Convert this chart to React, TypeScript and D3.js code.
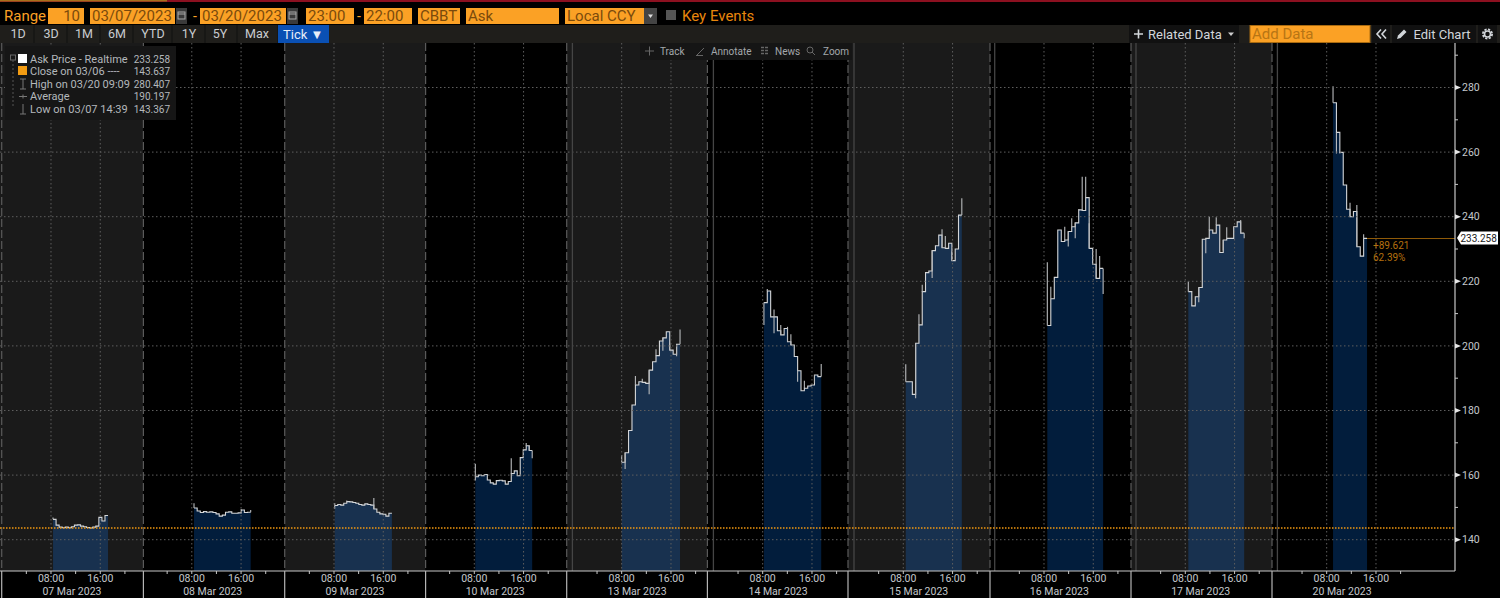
import React from "react";
import * as d3 from "d3";

const dates = ["07 Mar 2023", "08 Mar 2023", "09 Mar 2023", "10 Mar 2023", "13 Mar 2023", "14 Mar 2023", "15 Mar 2023", "16 Mar 2023", "17 Mar 2023", "20 Mar 2023"];

// first and last traded hour of each session
const openHours = [8.33, 8.36, 8.12, 8.17, 8.0, 8.2, 8.4, 8.54, 8.49, 9.03];
const closeHours = [17.26, 17.56, 17.4, 17.4, 17.47, 17.5, 17.5, 17.6, 17.56, 14.55];

const asks07 = [146.3, 144.5, 143.9, 143.7, 143.9, 143.7, 144.0, 144.5, 144.6, 144.2, 144.0, 143.8, 143.6, 143.9, 144.2, 146.9, 145.8, 147.5];
const asks08 = [149.8, 148.9, 148.4, 148.7, 148.5, 148.6, 148.4, 148.0, 147.3, 147.6, 148.5, 148.6, 148.2, 148.2, 148.3, 149.2, 148.4, 148.5];
const asks09 = [150.6, 150.9, 150.7, 151.3, 151.8, 151.7, 151.5, 151.3, 150.9, 150.7, 151.1, 150.9, 150.7, 149.5, 148.5, 148.0, 147.9, 147.3, 148.2];
const asks10 = [159.5, 160.0, 159.8, 160.2, 158.5, 157.6, 157.2, 158.3, 158.4, 158.2, 157.2, 158.0, 160.5, 161.3, 159.8, 165.4, 167.8, 169.1, 167.6];
const asks13 = [164.0, 166.9, 173.8, 181.7, 187.9, 188.9, 188.7, 188.4, 192.5, 195.1, 197.0, 201.5, 202.5, 204.4, 198.7, 197.4, 200.5];
const asks14 = [213.4, 217.0, 209.0, 209.0, 204.7, 203.4, 205.4, 201.3, 200.3, 196.7, 192.3, 186.1, 186.9, 187.6, 187.9, 191.0, 190.5];
const asks15 = [188.9, 188.9, 185.0, 200.8, 206.5, 216.8, 222.7, 223.2, 229.5, 231.0, 234.3, 230.4, 230.2, 231.8, 226.4, 230.0, 240.5];
const asks16 = [206.3, 214.6, 221.2, 235.9, 232.3, 232.8, 235.4, 236.9, 238.1, 242.1, 241.9, 245.9, 230.2, 225.3, 220.9, 224.0];
const asks17 = [216.8, 212.4, 215.2, 218.1, 233.0, 233.3, 235.9, 234.9, 237.4, 228.9, 232.8, 233.3, 233.3, 236.9, 238.4, 234.9];
const asks20 = [275.3, 266.1, 259.9, 249.8, 242.3, 240.0, 241.6, 230.7, 227.8, 233.3];
const asks = [asks07, asks08, asks09, asks10, asks13, asks14, asks15, asks16, asks17, asks20];

// intrabar extremes that stick out of the step line: [bar, price]
const wicks07 = [[0, 146.9]];
const wicks08 = [[0, 151.3], [15, 149.4], [18, 149.2]];
const wicks09 = [[0, 151.4], [0, 149.6], [4, 152.1], [13, 152.9]];
const wicks10 = [[0, 163.5], [0, 158.3], [12, 165.2], [17, 169.9], [18, 169.2], [19, 165.2]];
const wicks13 = [[0, 166.2], [1, 161.9], [4, 190.7], [6, 189.8], [8, 185.0], [10, 199.0], [12, 198.5], [14, 201.0], [16, 196.8], [17, 205.1]];
const wicks14 = [[0, 206.5], [1, 217.6], [3, 203.9], [3, 211.3], [5, 206.5], [7, 205.9], [8, 203.6], [10, 188.9], [12, 189.2], [15, 188.6], [17, 194.4]];
const wicks15 = [[0, 194.3], [3, 183.8], [4, 209.8], [5, 218.9], [8, 221.0], [11, 236.1], [12, 234.0], [14, 229.2], [17, 245.7]];
const wicks16 = [[0, 225.9], [1, 218.3], [5, 236.9], [6, 230.8], [7, 239.5], [8, 233.3], [9, 242.3], [10, 252.4], [11, 252.4], [12, 238.0], [14, 230.0], [15, 227.8], [16, 216.1]];
const wicks17 = [[0, 219.9], [1, 212.7], [3, 213.5], [5, 228.7], [6, 240.0], [8, 239.8], [10, 229.5], [11, 236.7], [13, 236.9], [15, 239.0], [16, 233.3]];
const wicks20 = [[0, 280.4], [1, 259.6], [2, 259.6], [5, 244.3], [7, 243.6], [9, 234.6]];
const wicks = [wicks07, wicks08, wicks09, wicks10, wicks13, wicks14, wicks15, wicks16, wicks17, wicks20];

const priceTicks = [140, 160, 180, 200, 220, 240, 260, 280];
const minorTicks = [150, 170, 190, 210, 230, 250, 270, 290];
const hourTicks = [4, 8, 12, 16, 20];
const prevClose = 143.637;
const lastPrice = 233.258;

const rangeButtons = ["1D", "3D", "1M", "6M", "YTD", "1Y", "5Y", "Max"];
const legendRows = [
  ["Ask Price - Realtime", "233.258"],
  ["Close on 03/06 ----", "143.637"],
  ["High on 03/20 09:09", "280.407"],
  ["Average", "190.197"],
  ["Low on 03/07 14:39", "143.367"],
];

// layout
const sessionStart = [1.7, 142.5, 284.7, 425, 572.4, 713.4, 854, 994.7, 1136, 1277.4];
const bandEdges = [1.7, 143.4, 284.7, 425.6, 566.7, 707.4, 848, 990, 1131, 1272, 1455];
const dateHour = [11.4, 11.4, 11.4, 11.4, 10.5, 10.5, 10.5, 10.5, 10.5, 10.5];
const buttonCenters = [18, 51, 84, 117, 153, 189, 220, 257];
const buttonEdges = [34, 67, 100, 133, 172, 205, 237, 278];
const axisX = 1455;
const plotTop = 43;
const plotBottom = 571;
const orange = "#fba125";
const fieldText = "#7a4a0c";
const font = "Roboto, sans-serif";

const y = d3.scaleLinear().domain([140, 280]).range([539.7, 87.5]);
const hourX = d3.scaleLinear().domain([0, 23]).range([0, 141.7]);
const x = (day: number, hour: number) => sessionStart[day] + hourX(hour);

const fields = [
  { x: 48, w: 36, t: "10", anchor: "end" },
  { x: 90, w: 85, t: "03/07/2023" },
  { x: 200, w: 86, t: "03/20/2023" },
  { x: 306, w: 48, t: "23:00" },
  { x: 364, w: 48, t: "22:00" },
  { x: 418, w: 42, t: "CBBT" },
  { x: 466, w: 93, t: "Ask" },
  { x: 565, w: 79, t: "Local CCY" },
];

const Session: React.FC<{ day: number }> = ({ day }) => {
  const values = asks[day];
  const barX = d3
    .scaleLinear()
    .domain([0, values.length])
    .range([x(day, openHours[day]), x(day, closeHours[day])]);
  const points = [...values, values[values.length - 1]];
  const area = d3
    .area<number>()
    .x((_, i) => barX(i))
    .y0(plotBottom)
    .y1((d) => y(d))
    .curve(d3.curveStepAfter);
  const line = d3
    .line<number>()
    .x((_, i) => barX(i))
    .y((d) => y(d))
    .curve(d3.curveStepAfter);
  return (
    <g>
      <path d={area(points)!} fill={day % 2 === 0 ? "#18314f" : "#021d3c"} />
      <path d={line(points)!} fill="none" stroke="#d4d6d8" strokeWidth={1.1} />
      {wicks[day].map(([bar, price], i) => {
        const b = Math.min(bar, values.length);
        const from = values[Math.min(b, values.length - 1)];
        return (
          <line
            key={i}
            x1={barX(b)}
            x2={barX(b)}
            y1={y(from)}
            y2={y(price)}
            stroke="#b9bbbd"
            strokeWidth={1.1}
          />
        );
      })}
    </g>
  );
};

const App: React.FC = () => {
  return (
    <div style={{ position: "absolute", left: 0, top: 0, width: 1500, height: 598, overflow: "hidden" }}>
      <svg width={1500} height={598} fontFamily={font} style={{ display: "block", background: "#000" }}>
        {/* top strip */}
        <rect x={0} y={0} width={1500} height={2} fill="#8c1020" />
        <rect x={0} y={0} width={167} height={1.5} fill="#a8701c" />

        {/* day bands */}
        {dates.map((_, i) => (
          <rect
            key={i}
            x={i === 0 ? 0 : bandEdges[i]}
            y={plotTop}
            width={bandEdges[i + 1] - (i === 0 ? 0 : bandEdges[i])}
            height={plotBottom - plotTop}
            fill={i % 2 === 0 ? "#1a1a1a" : "#000"}
          />
        ))}

        {dates.map((_, i) => (
          <Session key={i} day={i} />
        ))}

        {/* grid */}
        {priceTicks.map((p) => (
          <line key={p} x1={0} x2={axisX} y1={y(p)} y2={y(p)} stroke="#5e5e5e" strokeDasharray="1.5 2.5" />
        ))}
        {dates.map((_, i) =>
          [8, 16].map((h) => (
            <line key={`${i}-${h}`} x1={x(i, h)} x2={x(i, h)} y1={plotTop} y2={plotBottom} stroke="#5e5e5e" strokeDasharray="1.5 2.5" />
          ))
        )}

        {/* session separators */}
        {bandEdges.slice(0, -1).map((e, i) => (
          <line key={i} x1={e} x2={e} y1={plotTop} y2={plotBottom} stroke="#5a5a5a" strokeWidth={1.2} strokeDasharray="8 3" />
        ))}
        {sessionStart.slice(4).map((s) => (
          <line key={s} x1={s} x2={s} y1={plotTop} y2={plotBottom} stroke="#454545" strokeWidth={1.3} />
        ))}

        {/* previous close and last price */}
        <line x1={0} x2={axisX} y1={y(prevClose)} y2={y(prevClose)} stroke="#f0960f" strokeWidth={1.4} strokeDasharray="1.5 1.5" />
        <line x1={x(9, closeHours[9])} x2={axisX} y1={y(lastPrice)} y2={y(lastPrice)} stroke="#8f5a08" strokeWidth={1.2} />
        <text x={1373} y={248.5} fontSize={10} fill="#b5700e">+89.621</text>
        <text x={1373} y={261} fontSize={10} fill="#b5700e">62.39%</text>

        {/* right axis */}
        <line x1={axisX} x2={axisX} y1={plotTop} y2={plotBottom} stroke="#c8c8c8" strokeWidth={1.2} />
        {minorTicks.map((p) => (
          <line key={p} x1={axisX} x2={axisX + 3} y1={y(p)} y2={y(p)} stroke="#c8c8c8" />
        ))}
        {priceTicks.map((p) => (
          <g key={p}>
            <path d={`M${axisX},${y(p) - 2.5}L${axisX + 6},${y(p)}L${axisX},${y(p) + 2.5}Z`} fill="#e6e6e6" />
            <text x={1462} y={y(p) + 3.7} fontSize={10.5} fill="#c4c8cc">{p}</text>
          </g>
        ))}
        <path d="M1457,238L1461,231.5H1498V244.5H1461Z" fill="#fff" />
        <text x={1460.5} y={241.6} fontSize={10} fill="#222">233.258</text>

        {/* bottom axis */}
        <line x1={0} x2={axisX} y1={plotBottom} y2={plotBottom} stroke="#c8c8c8" strokeWidth={1.2} />
        {bandEdges.slice(0, -1).map((e, i) => (
          <line key={i} x1={e} x2={e} y1={plotBottom} y2={598} stroke="#b5b5b5" strokeWidth={1.2} />
        ))}
        {dates.map((d, i) => (
          <g key={d}>
            {hourTicks.map((h) => (
              <line key={h} x1={x(i, h)} x2={x(i, h)} y1={plotBottom} y2={plotBottom + 3} stroke="#c8c8c8" />
            ))}
            {[8, 16].map((h) => (
              <text key={h} x={x(i, h)} y={582} fontSize={10.5} textAnchor="middle" fill="#c4c8cc">
                {String(h).padStart(2, "0")}:00
              </text>
            ))}
            <text x={x(i, dateHour[i])} y={595} fontSize={10.5} textAnchor="middle" fill="#c4c8cc">{d}</text>
          </g>
        ))}

        {/* top control row */}
        <text x={4} y={21} fontSize={15} fill={orange}>Range</text>
        {fields.map((f) => (
          <g key={f.t}>
            <rect x={f.x} y={8} width={f.w} height={16} fill={orange} />
            <text
              x={f.anchor === "end" ? f.x + f.w - 4 : f.x + 2}
              y={21}
              fontSize={15}
              textAnchor={f.anchor === "end" ? "end" : "start"}
              fill={fieldText}
            >
              {f.t}
            </text>
          </g>
        ))}
        {[176, 287].map((c) => (
          <g key={c}>
            <rect x={c} y={8} width={11} height={16} fill="#3a3a3a" />
            <rect x={c + 2} y={12} width={7} height={7} fill="none" stroke="#aaa" />
            <line x1={c + 2} x2={c + 9} y1={14} y2={14} stroke="#aaa" />
          </g>
        ))}
        <text x={193} y={21} fontSize={14} fill={orange}>-</text>
        <text x={357} y={21} fontSize={14} fill={orange}>-</text>
        <rect x={644} y={8} width={13} height={16} fill="#444" />
        <path d="M648,14.5H653L650.5,18Z" fill="#ddd" />
        <rect x={666} y={10} width={10} height={10} fill="#555" />
        <text x={682} y={21} fontSize={15} fill="#e8860c">Key Events</text>

        {/* second row */}
        <rect x={0} y={25} width={1500} height={18} fill="#1f1e1b" />
        {rangeButtons.map((b, i) => (
          <g key={b}>
            <text x={buttonCenters[i]} y={38} fontSize={12.5} textAnchor="middle" fill="#c9ccd0">{b}</text>
            <line x1={buttonEdges[i]} x2={buttonEdges[i]} y1={25} y2={43} stroke="#111" />
          </g>
        ))}
        <rect x={278} y={25} width={51} height={18} fill="#0a50b4" />
        <text x={283} y={38.5} fontSize={13} fill="#e8eef8">Tick ▼</text>

        <rect x={1129} y={25} width={110} height={18} fill="#111" />
        <path d="M1134,34H1143M1138.5,29.5V38.5" stroke="#d2d6da" strokeWidth={1.6} />
        <text x={1148} y={38.5} fontSize={13} fill="#d2d6da">Related Data</text>
        <path d="M1228,32.5H1234L1231,36Z" fill="#ccc" />
        <rect x={1250} y={25.5} width={120} height={17} fill={orange} stroke="#a86a10" />
        <text x={1252} y={39} fontSize={15} fill="#b87514">Add Data</text>
        <rect x={1372} y={25} width={18} height={18} fill="#111" />
        <path d="M1381,29.5L1377,34L1381,38.5M1386,29.5L1382,34L1386,38.5" fill="none" stroke="#d2d6da" strokeWidth={1.6} />
        <rect x={1392} y={25} width={84} height={18} fill="#111" />
        <path d="M1397,39L1398,35.5L1404,29.5L1406.5,32L1400.5,38Z" fill="#d2d6da" />
        <text x={1413.5} y={38.5} fontSize={13} fill="#d2d6da">Edit Chart</text>
        <rect x={1478} y={25} width={19} height={18} fill="#111" />
        <circle cx={1487.5} cy={34} r={4.6} fill="none" stroke="#d2d6da" strokeWidth={1.8} strokeDasharray="2.2 1.4" />
        <circle cx={1487.5} cy={34} r={3} fill="none" stroke="#d2d6da" strokeWidth={1.6} />

        {/* chart tools */}
        <rect x={640} y={43} width={212} height={17} fill="#151515" />
        <path d="M645,51H654M649.5,46.5V55.5" stroke="#666" />
        <path d="M697,55L704,48M696,55.5H703" stroke="#666" fill="none" />
        <path d="M761,47.5H768M761,50.5H768M761,53.5H768" stroke="#666" strokeWidth={1.4} strokeDasharray="3 1" />
        <circle cx={810} cy={50} r={3} fill="none" stroke="#666" />
        <line x1={812} x2={815} y1={52} y2={55} stroke="#666" />
        {[
          ["Track", 660],
          ["Annotate", 711],
          ["News", 775],
          ["Zoom", 823],
        ].map(([t, tx]) => (
          <text key={t as string} x={tx as number} y={55} fontSize={10} fill="#a3a7ab">{t}</text>
        ))}

        {/* legend */}
        <rect x={5} y={46} width={171} height={74} fill="#161616" />
        <rect x={10.5} y={55} width={5} height={5} fill="none" stroke="#666" />
        <line x1={13} x2={13} y1={60} y2={108} stroke="#555" strokeDasharray="2 2" />
        <rect x={18} y={54} width={9} height={9} fill="#fff" />
        <rect x={18} y={66} width={9} height={9} fill="#f39c12" />
        <path d="M20,79H26M23,79V89M20,89H26" stroke="#777" fill="none" />
        <path d="M19,96.5H27M23,94.5V98.5" stroke="#777" fill="none" />
        <path d="M23,104V114M20,114H26" stroke="#777" fill="none" />
        {legendRows.map(([label, value], i) => (
          <g key={label}>
            <text x={30} y={62.5 + i * 12.5} fontSize={11} fill="#b4b8bc">{label}</text>
            <text x={170} y={62.5 + i * 12.5} fontSize={10} textAnchor="end" fill="#b4b8bc">{value}</text>
          </g>
        ))}
      </svg>
    </div>
  );
};

export default App;
